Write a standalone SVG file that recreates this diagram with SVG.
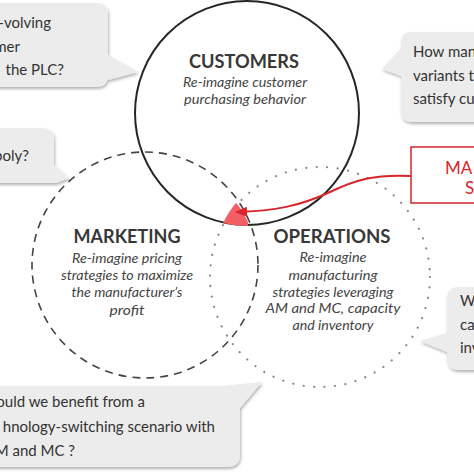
<svg xmlns="http://www.w3.org/2000/svg" width="474" height="474" viewBox="0 0 474 474">
<defs>
<filter id="sh" x="-10%" y="-10%" width="130%" height="130%">
<feDropShadow dx="1" dy="2" stdDeviation="1.5" flood-color="#000" flood-opacity="0.3"/>
</filter>
<marker id="ah" viewBox="0 0 12 10" refX="11" refY="5" markerWidth="12" markerHeight="10" markerUnits="userSpaceOnUse" orient="auto">
<path d="M0,0 L12,5 L0,10 Z" fill="#d9252b"/>
</marker>
<style>
.bub{fill:#ececec;filter:url(#sh)}
.bt{font-family:Lato,"Open Sans",sans-serif;font-size:15px;fill:#333}
.hd{font-family:Lato,"Open Sans",sans-serif;font-size:18px;font-weight:bold;fill:#383838;text-anchor:middle}
.it{font-family:Lato,"Open Sans",sans-serif;font-size:13.5px;font-style:italic;fill:#444;text-anchor:middle}
.red{font-family:Lato,"Open Sans",sans-serif;font-size:17px;fill:#d9252b}
</style>
</defs>
<rect width="474" height="474" fill="#fff"/>

<g id="bubble-plc">
<path class="bub" d="M-20,3 H96 Q108,3 108,15 V55 L138,72 L108,80 V75 Q108,87 96,87 H-20 Z"/>
<text class="bt" x="51" y="28" text-anchor="end">e-volving</text>
<text class="bt" x="20" y="52" text-anchor="end">mer</text>
<text class="bt" x="64" y="75" text-anchor="end">the PLC?</text>
</g>

<g id="bubble-variants">
<path class="bub" d="M494,32 H412 Q401,32 401,44 V48 L382,69 L401,76 V110 Q401,122 412,122 H494 Z"/>
<text class="bt" x="413" y="57">How man</text>
<text class="bt" x="413" y="81">variants t</text>
<text class="bt" x="413" y="104">satisfy cu</text>
</g>

<g id="bubble-poly">
<path class="bub" d="M-20,128 H42 Q54,128 54,140 V165 L69,178 L56,183 Q54,183 42,183 H-20 Z"/>
<text class="bt" x="29" y="161" text-anchor="end">poly?</text>
</g>

<g id="bubble-capacity">
<path class="bub" d="M494,287 H459 Q447,287 447,299 V333 L420,341 L447,352 V358 Q447,370 459,370 H494 Z"/>
<text class="bt" x="460" y="306">W</text>
<text class="bt" x="460" y="330">ca</text>
<text class="bt" x="460" y="353">inv</text>
</g>

<g id="bubble-switching">
<path class="bub" d="M-20,386 H222 L262,382 L240,408 V454 Q240,467 227,467 H-20 Z"/>
<text class="bt" x="145" y="407" text-anchor="end">ould we benefit from a</text>
<text class="bt" x="215" y="432" text-anchor="end">hnology-switching scenario with</text>
<text class="bt" x="75" y="456" text-anchor="end">AM and MC ?</text>
</g>

<g id="customers">
<circle cx="247" cy="113" r="112" fill="none" stroke="#262626" stroke-width="2"/>
<text class="hd" x="244" y="68" textLength="110" lengthAdjust="spacingAndGlyphs">CUSTOMERS</text>
<text class="it" x="245" y="87" textLength="124" lengthAdjust="spacingAndGlyphs">Re-imagine customer</text>
<text class="it" x="245" y="104" textLength="122" lengthAdjust="spacingAndGlyphs">purchasing behavior</text>
</g>

<g id="marketing">
<circle cx="145" cy="265" r="113" fill="none" stroke="#444" stroke-width="1.6" stroke-dasharray="8 6"/>
<text class="hd" x="127" y="243" textLength="107" lengthAdjust="spacingAndGlyphs">MARKETING</text>
<text class="it" x="127" y="263" textLength="110" lengthAdjust="spacingAndGlyphs">Re-imagine pricing</text>
<text class="it" x="127" y="280" textLength="132" lengthAdjust="spacingAndGlyphs">strategies to maximize</text>
<text class="it" x="127" y="297" textLength="111" lengthAdjust="spacingAndGlyphs">the manufacturer’s</text>
<text class="it" x="127" y="315" textLength="35" lengthAdjust="spacingAndGlyphs">profit</text>
</g>

<g id="operations">
<circle cx="320" cy="277" r="110" fill="none" stroke="#888" stroke-width="2.2" stroke-linecap="round" stroke-dasharray="0.1 10.4"/>
<text class="hd" x="332" y="243" textLength="117" lengthAdjust="spacingAndGlyphs">OPERATIONS</text>
<text class="it" x="333" y="262" textLength="67" lengthAdjust="spacingAndGlyphs">Re-imagine</text>
<text class="it" x="333" y="280" textLength="89" lengthAdjust="spacingAndGlyphs">manufacturing</text>
<text class="it" x="333" y="297" textLength="121" lengthAdjust="spacingAndGlyphs">strategies leveraging</text>
<text class="it" x="333" y="313" textLength="135" lengthAdjust="spacingAndGlyphs">AM and MC, capacity</text>
<text class="it" x="333" y="330" textLength="81" lengthAdjust="spacingAndGlyphs">and inventory</text>
</g>

<g id="scope-box">
<rect x="411" y="147" width="80" height="56" fill="#fff" stroke="#d9252b" stroke-width="1.5"/>
<text class="red" x="445" y="174">MA</text>
<text class="red" x="465" y="194">S</text>
</g>

<g id="connectors">
<path d="M236,203 Q240,206 248,222 L248,226 Q236,226.5 223,223 Q229,211 236,203 Z" fill="#f25e63"/>
<path d="M411,176 C375,174 355,180 330,192 C300,206 275,211 236,212" fill="none" stroke="#d9252b" stroke-width="2" marker-end="url(#ah)"/>
</g>
</svg>
